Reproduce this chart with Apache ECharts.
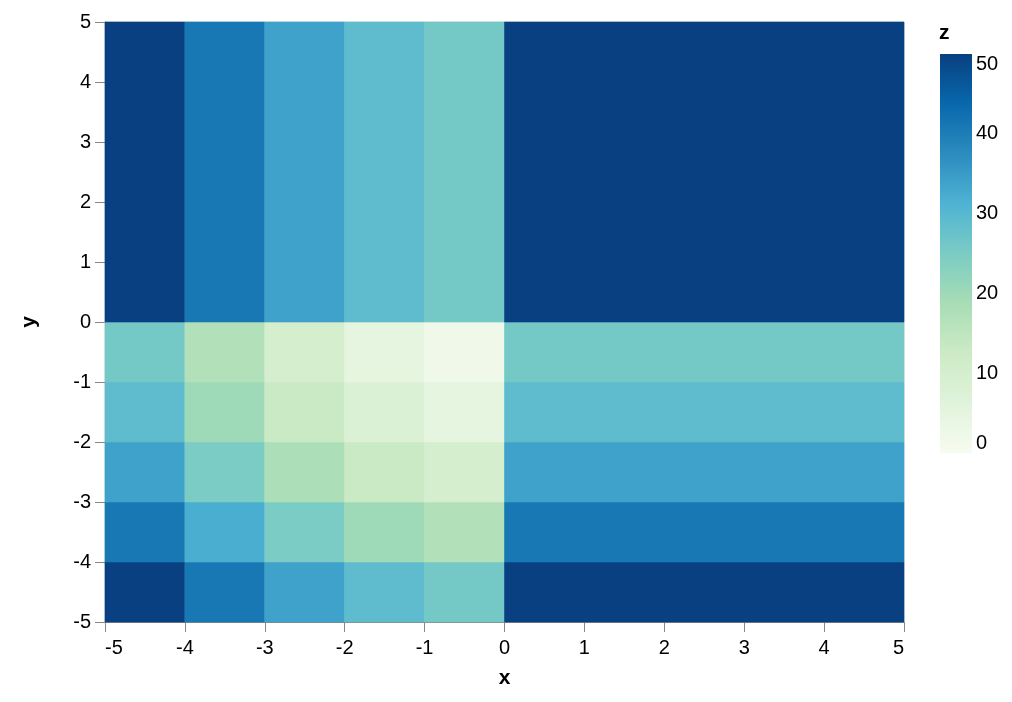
<!DOCTYPE html>
<html>
<head>
<meta charset="utf-8">
<script src="https://cdn.jsdelivr.net/npm/echarts@6/dist/echarts.min.js"></script>
<style>
html,body{margin:0;padding:0;background:#fff;}
#chart{width:1012px;height:702px;}
</style>
</head>
<body>
<div id="chart"></div>
<script>
// Bin edges along x and y (the last bin on each axis spans 0..5)
var xEdges = [-5, -4, -3, -2, -1, 0, 5];
var yEdges = [-5, -4, -3, -2, -1, 0, 5];
// z values, one row per y bin (bottom to top), one column per x bin (left to right)
var zRow1 = [50, 41, 34, 29, 26, 50]; // y -5..-4
var zRow2 = [41, 32, 25, 20, 17, 41]; // y -4..-3
var zRow3 = [34, 25, 18, 13, 10, 34]; // y -3..-2
var zRow4 = [29, 20, 13, 8, 5, 29];   // y -2..-1
var zRow5 = [26, 17, 10, 5, 2, 26];   // y -1..0
var zRow6 = [50, 41, 34, 29, 26, 50]; // y 0..5
var zRows = [zRow1, zRow2, zRow3, zRow4, zRow5, zRow6];
// Axis ticks
var axisTicks = [-5, -4, -3, -2, -1, 0, 1, 2, 3, 4, 5];
var legendTicks = [0, 10, 20, 30, 40, 50];
// greenblue colour scheme
var schemeColors = ['#f7fcf0', '#e0f3db', '#ccebc5', '#a8ddb5', '#7bccc4', '#4eb3d3', '#2b8cbe', '#0868ac', '#084081'];

var FONT = '"Liberation Sans", Arial, Helvetica, sans-serif';

var cells = [];
for (var j = 0; j < zRows.length; j++) {
  for (var i = 0; i < zRows[j].length; i++) {
    cells.push([xEdges[i], xEdges[i + 1], yEdges[j], yEdges[j + 1], zRows[j][i]]);
  }
}

var chart = echarts.init(document.getElementById('chart'), null, {renderer: 'canvas'});

var labelStyle = {color: '#000', fontSize: 20, fontFamily: FONT};
var titleStyle = {color: '#000', fontSize: 21, fontWeight: 'bold', fontFamily: FONT};

var option = {
  animation: false,
  textStyle: {fontFamily: FONT},
  title: {text: 'z', left: 939, top: 23, padding: 0, textStyle: titleStyle},
  grid: [
    {left: 105, top: 22, width: 799, height: 600, show: true, borderColor: '#ddd', borderWidth: 1, backgroundColor: 'transparent'},
    {left: 940, top: 54, width: 32, height: 399}
  ],
  xAxis: [
    {
      gridIndex: 0, type: 'value', min: axisTicks[0], max: axisTicks[axisTicks.length - 1], interval: 1,
      name: 'x', nameLocation: 'middle', nameGap: 46,
      nameTextStyle: titleStyle,
      axisLine: {show: true, onZero: false, lineStyle: {color: '#888', width: 1}},
      axisTick: {show: true, length: 10, lineStyle: {color: '#888'}},
      axisLabel: Object.assign({margin: 16, alignMinLabel: 'left', alignMaxLabel: 'right'}, labelStyle),
      splitLine: {show: false}
    },
    {gridIndex: 1, type: 'value', min: 0, max: 1, show: false}
  ],
  yAxis: [
    {
      gridIndex: 0, type: 'value', min: axisTicks[0], max: axisTicks[axisTicks.length - 1], interval: 1,
      name: 'y', nameLocation: 'middle', nameGap: 65,
      nameTextStyle: titleStyle,
      axisLine: {show: true, onZero: false, lineStyle: {color: '#888', width: 1}},
      axisTick: {show: true, length: 10, lineStyle: {color: '#888'}},
      axisLabel: Object.assign({margin: 14}, labelStyle),
      splitLine: {show: false}
    },
    {
      gridIndex: 1, type: 'value', position: 'right', min: legendTicks[0], max: legendTicks[legendTicks.length - 1], interval: 10,
      axisLine: {show: false}, axisTick: {show: false}, splitLine: {show: false},
      axisLabel: Object.assign({margin: 4, verticalAlignMinLabel: 'bottom', verticalAlignMaxLabel: 'top'}, labelStyle)
    }
  ],
  visualMap: {
    type: 'continuous', show: false, seriesIndex: 0, dimension: 4,
    min: legendTicks[0], max: legendTicks[legendTicks.length - 1],
    inRange: {color: schemeColors}
  },
  series: [
    {
      type: 'custom', xAxisIndex: 0, yAxisIndex: 0, z: 5,
      encode: {x: [0, 1], y: [2, 3]},
      data: cells,
      renderItem: function (params, api) {
        var p0 = api.coord([api.value(0), api.value(3)]);
        var p1 = api.coord([api.value(1), api.value(2)]);
        var c = api.visual('color');
        return {
          type: 'rect',
          shape: {x: p0[0], y: p0[1], width: p1[0] - p0[0], height: p1[1] - p0[1]},
          style: {fill: c, stroke: c, lineWidth: 0.6}
        };
      }
    },
    {
      type: 'custom', xAxisIndex: 1, yAxisIndex: 1, silent: true,
      data: [[0, 1, legendTicks[0], legendTicks[legendTicks.length - 1]]],
      encode: {x: [0, 1], y: [2, 3]},
      renderItem: function (params, api) {
        var p0 = api.coord([api.value(0), api.value(3)]);
        var p1 = api.coord([api.value(1), api.value(2)]);
        var stops = schemeColors.map(function (col, k) {
          return {offset: 1 - k / (schemeColors.length - 1), color: col};
        }).reverse();
        return {
          type: 'rect',
          shape: {x: p0[0], y: p0[1], width: p1[0] - p0[0], height: p1[1] - p0[1]},
          style: {fill: new echarts.graphic.LinearGradient(0, 0, 0, 1, stops)}
        };
      }
    }
  ]
};
chart.setOption(option);
</script>
</body>
</html>
